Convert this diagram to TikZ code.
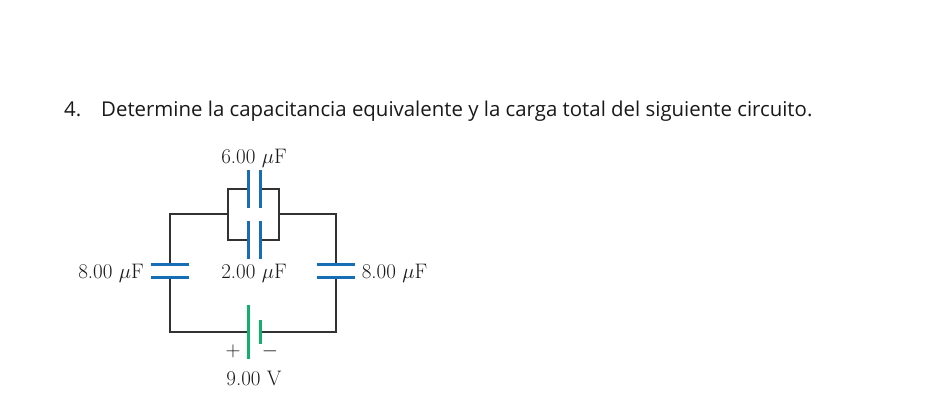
\documentclass[tikz,border=0pt]{standalone}
\usepackage{fontspec}
\usepackage{xcolor}
\newfontfamily\titlefont{Open Sans}
\definecolor{capblue}{RGB}{24,110,180}
\definecolor{batgreen}{RGB}{20,175,110}
\definecolor{wiregray}{RGB}{50,50,50}
\usetikzlibrary{positioning}
\begin{document}
\begin{tikzpicture}[x=1pt,y=-1pt,
  wire/.style={draw=wiregray,line width=1.8pt},
  platev/.style={fill=capblue,inner sep=0pt,minimum width=3pt,minimum height=38pt},
  plateh/.style={fill=capblue,inner sep=0pt,minimum width=38pt,minimum height=3pt},
  batlong/.style={fill=batgreen,inner sep=0pt,minimum width=3pt,minimum height=53pt},
  batshort/.style={fill=batgreen,inner sep=0pt,minimum width=3pt,minimum height=23pt},
  val/.style={text=black!90,inner sep=0pt,font=\fontsize{21}{24}\selectfont},
  title/.style={text=black!90,inner sep=0pt,anchor=base west,font=\titlefont\fontsize{20.4}{24}\selectfont}]
  \useasboundingbox (0,0) rectangle (927,406);
  \node[title] (num) at (64,116.5) {4.};
  \node[title] (txt) at (101,116.5) {Determine la capacitancia equivalente y la carga total del siguiente circuito.};

  \coordinate (bl) at (228,214);
  \coordinate (br) at (279,214);
  % capacitors in parallel
  \node[platev] (c6a) at (248,189) {};
  \node[platev] (c6b) at (260,189) {};
  \node[platev] (c2a) at (248,240) {};
  \node[platev] (c2b) at (260,240) {};
  % side capacitors
  \node[plateh] (c8a) at (170,265) {};
  \node[plateh] (c8b) at (170,278) {};
  \node[plateh] (c8c) at (336,265) {};
  \node[plateh] (c8d) at (336,278) {};
  % battery
  \node[batlong] (bat1) at (248,332) {};
  \node[batshort] (bat2) at (260,332) {};

  \draw[wire] (c8a.center) |- (bl);
  \draw[wire] (c8c.center) |- (br);
  \draw[wire] (c6a.center) -| (bl) |- (c2a.center);
  \draw[wire] (c6b.center) -| (br) |- (c2b.center);
  \draw[wire] (c8b.center) |- (bat1.center);
  \draw[wire] (c8d.center) |- (bat2.center);
  % plates go on top of the wire ends
  \node[platev] at (c6a) {};
  \node[platev] at (c6b) {};
  \node[platev] at (c2a) {};
  \node[platev] at (c2b) {};
  \node[plateh] at (c8a) {};
  \node[plateh] at (c8b) {};
  \node[plateh] at (c8c) {};
  \node[plateh] at (c8d) {};
  \node[batlong] at (bat1) {};
  \node[batshort] at (bat2) {};

  \node[val] (l6) at (254,158) {6.00 $\mu$F};
  \node[val] (l2) at (254,273) {2.00 $\mu$F};
  \node[val] (l8a) at (111,273) {8.00 $\mu$F};
  \node[val] (l8b) at (394.5,273) {8.00 $\mu$F};
  \node[val] (lp) at (233,351) {$+$};
  \node[val] (lm) at (270,351) {$-$};
  \node[val] (l9) at (254,378) {9.00 V};
\end{tikzpicture}
\end{document}
